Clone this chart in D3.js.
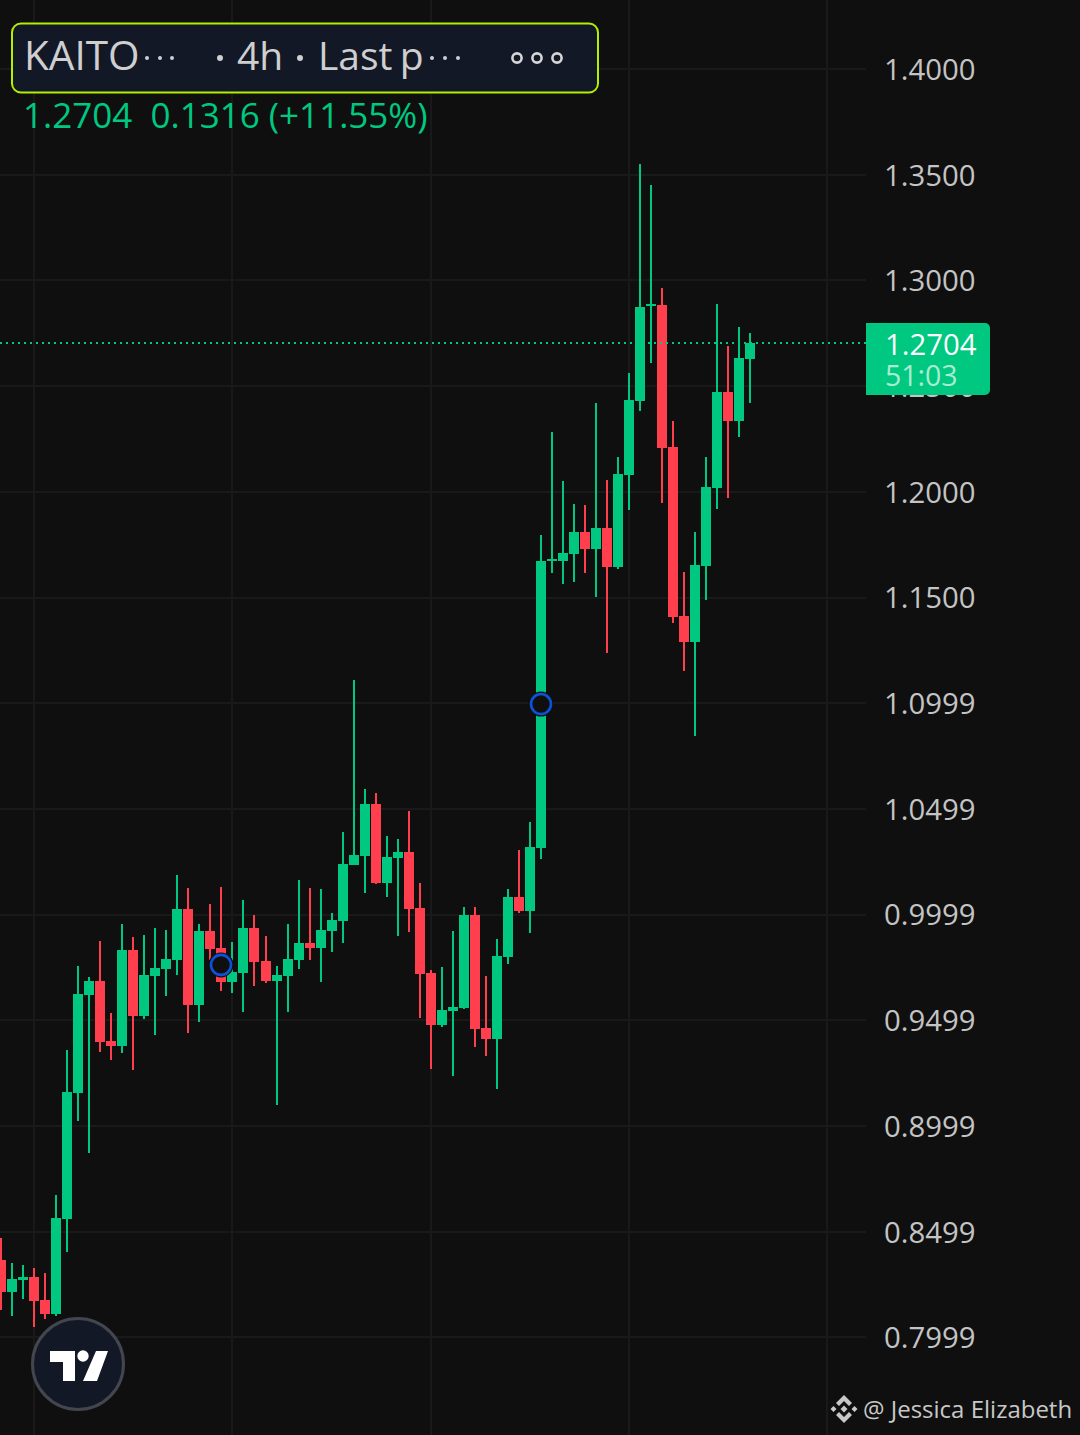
<!DOCTYPE html>
<html>
<head>
<meta charset="utf-8">
<script src="https://cdn.jsdelivr.net/npm/d3@7"></script>
<style>
  html, body { margin: 0; padding: 0; background: #0f0f0f; }
  svg { display: block; font-family: "Open Sans", "Noto Sans", sans-serif; }
</style>
</head>
<body>
<div id="container"></div>
<script>
/* DATA, 4h candles left to right */
const openP = [0.8366,0.8215,0.8271,0.8286,0.8177,0.8111,0.8560,0.9156,0.9620,0.9686,0.9402,0.9378,0.9833,0.9520,0.9710,0.9743,0.9785,1.0027,0.9572,0.9922,0.9842,0.9681,0.9724,0.9937,0.9780,0.9686,0.9710,0.9785,0.9866,0.9842,0.9922,0.9970,1.0235,1.0277,1.0523,1.0150,1.0268,1.0296,1.0031,0.9724,0.9478,0.9544,0.9558,0.9998,0.9464,0.9412,0.9799,1.0083,1.0017,1.0315,1.1673,1.1673,1.1706,1.1810,1.1729,1.1829,1.1644,1.2079,1.2430,1.2879,1.2884,1.2212,1.1413,1.1290,1.1649,1.2018,1.2472,1.2335,1.2628];
const closeP = [0.8215,0.8276,0.8286,0.8172,0.8111,0.8565,0.9161,0.9624,0.9686,0.9397,0.9378,0.9833,0.9520,0.9714,0.9747,0.9790,1.0027,0.9572,0.9922,0.9837,0.9681,0.9729,0.9937,0.9776,0.9686,0.9714,0.9790,0.9866,0.9842,0.9927,0.9974,1.0239,1.0282,1.0523,1.0150,1.0272,1.0296,1.0027,0.9719,0.9478,0.9549,0.9563,0.9998,0.9459,0.9412,0.9804,1.0083,1.0017,1.0320,1.1673,1.1682,1.1711,1.1810,1.1729,1.1829,1.1644,1.2084,1.2434,1.2874,1.2888,1.2207,1.1408,1.1290,1.1654,1.2023,1.2472,1.2335,1.2633,1.2704];
const highP = [0.8470,0.8352,0.8342,0.8328,0.8305,0.8674,0.9360,0.9757,0.9705,0.9875,0.9535,0.9956,0.9894,0.9903,0.9937,0.9927,1.0187,1.0126,0.9956,1.0050,1.0131,0.9870,1.0069,0.9998,0.9899,0.9757,0.9956,1.0164,1.0126,1.0121,1.0008,1.0391,1.1110,1.0594,1.0575,1.0372,1.0358,1.0490,1.0150,0.9738,0.9752,0.9922,1.0036,1.0036,0.9710,0.9885,1.0121,1.0306,1.0438,1.1796,1.2283,1.2051,1.1942,1.1938,1.2420,1.2056,1.2165,1.2562,1.3551,1.3451,1.2964,1.2335,1.1621,1.1810,1.2165,1.2888,1.2690,1.2780,1.2751];
const lowP = [0.8130,0.8101,0.8182,0.8049,0.8087,0.8101,0.8404,0.9024,0.8872,0.9350,0.9312,0.9345,0.9265,0.9506,0.9430,0.9615,0.9714,0.9440,0.9492,0.9785,0.9639,0.9629,0.9539,0.9662,0.9676,0.9099,0.9539,0.9743,0.9785,0.9681,0.9823,0.9866,1.0235,1.0102,1.0145,1.0083,0.9899,0.9918,0.9511,0.9270,0.9468,0.9236,0.9553,0.9374,0.9331,0.9175,0.9766,1.0008,0.9913,1.0263,1.1616,1.1564,1.1573,1.1616,1.1502,1.1237,1.1635,1.1914,1.2382,1.2609,1.1947,1.1379,1.1152,1.0845,1.1488,1.1919,1.1971,1.2259,1.2420];

const priceTicks = [1.4,1.35,1.3,1.25,1.2,1.15,1.1,1.05,1.0,0.95,0.9,0.85,0.8];
const priceLabels = ["1.4000","1.3500","1.3000","1.2500","1.2000","1.1500","1.0999","1.0499","0.9999","0.9499","0.8999","0.8499","0.7999"];
const timeGrid = [3,21,39,57,75]; // vertical grid lines every 18 candles
const markerIdx = [20,49];
const markerPrice = [0.9762,1.0996];
const lastPrice = 1.2704;

/* CONSTANTS AND GLOBALS */
const width = 1080, height = 1435, plotRight = 866;
const bg = "#0f0f0f", gridCol = "#191919", up = "#00c880", down = "#ff3f4d";

const x = d3.scaleLinear().domain([0, 68]).range([1.15, 750.15]);
const y = d3.scaleLinear().domain([1.4, 0.8]).range([69, 1337.4]);

const svg = d3.select("#container").append("svg")
  .attr("width", width).attr("height", height);

svg.append("rect").attr("width", width).attr("height", height).attr("fill", bg);

// grid
const grid = svg.append("g").attr("shape-rendering", "crispEdges");
grid.selectAll(".hgrid").data(priceTicks).join("line")
  .attr("class", "hgrid")
  .attr("x1", 0).attr("x2", plotRight)
  .attr("y1", d => Math.round(y(d))).attr("y2", d => Math.round(y(d)))
  .attr("stroke", gridCol).attr("stroke-width", 2);
grid.selectAll(".vgrid").data(timeGrid).join("line")
  .attr("class", "vgrid")
  .attr("x1", d => Math.round(x(d))).attr("x2", d => Math.round(x(d)))
  .attr("y1", 0).attr("y2", height)
  .attr("stroke", gridCol).attr("stroke-width", 2);

// price axis
const yAxis = d3.axisRight(y).tickValues(priceTicks)
  .tickFormat((d, i) => priceLabels[i]).tickSize(0).tickPadding(0);
const axisG = svg.append("g").attr("transform", "translate(884,1)").call(yAxis);
axisG.select(".domain").remove();
axisG.selectAll("text")
  .attr("fill", "#c4c4c4").attr("font-size", "29.3px")
  .attr("font-family", '"Open Sans", sans-serif');

// candles
const candles = openP.map((o, i) => ({ i, o, c: closeP[i], h: highP[i], l: lowP[i] }));
const candleG = svg.append("g").attr("shape-rendering", "crispEdges");
const colour = d => d.c >= d.o ? up : down;

candleG.selectAll(".wick").data(candles).join("rect")
  .attr("class", "wick")
  .attr("x", d => Math.round(x(d.i)) - 1)
  .attr("width", 2)
  .attr("y", d => Math.round(y(d.h)))
  .attr("height", d => Math.round(y(d.l)) - Math.round(y(d.h)))
  .attr("fill", colour);

candleG.selectAll(".body").data(candles).join("rect")
  .attr("class", "body")
  .attr("x", d => Math.round(x(d.i)) - 5)
  .attr("width", 10)
  .attr("y", d => Math.round(y(Math.max(d.o, d.c))))
  .attr("height", d => Math.max(2, Math.round(y(Math.min(d.o, d.c))) - Math.round(y(Math.max(d.o, d.c)))))
  .attr("fill", colour);

// last price dotted line
svg.append("line")
  .attr("x1", 0).attr("x2", plotRight)
  .attr("y1", Math.round(y(lastPrice))).attr("y2", Math.round(y(lastPrice)))
  .attr("stroke", up).attr("stroke-width", 2)
  .attr("stroke-dasharray", "2 4");

// blue markers, the wider background ring cuts the candle behind them
svg.selectAll(".marker-halo").data(markerIdx).join("circle")
  .attr("class", "marker-halo")
  .attr("cx", d => Math.round(x(d)))
  .attr("cy", (d, i) => y(markerPrice[i]))
  .attr("r", 12.5)
  .attr("fill", bg);
svg.selectAll(".marker").data(markerIdx).join("circle")
  .attr("class", "marker")
  .attr("cx", d => Math.round(x(d)))
  .attr("cy", (d, i) => y(markerPrice[i]))
  .attr("r", 10)
  .attr("fill", "none")
  .attr("stroke", "#0b52d9")
  .attr("stroke-width", 2.6);

// price tag, sits on top of the 1.2500 label
const tagTop = Math.round(y(lastPrice)) - 20;
svg.append("path")
  .attr("d", `M${plotRight},${tagTop}H985a5,5 0 0 1 5,5V${tagTop + 67}a5,5 0 0 1 -5,5H${plotRight}Z`)
  .attr("fill", up);
svg.append("text").attr("x", 885).attr("y", tagTop + 32)
  .attr("font-size", "29.3px").attr("fill", "#ffffff").text(d3.format(".4f")(lastPrice));
svg.append("text").attr("x", 885).attr("y", tagTop + 63)
  .attr("font-size", "28.5px").attr("fill", "#a8ecd2").text("51:03");

// header box
svg.append("rect")
  .attr("x", 12).attr("y", 23.5).attr("width", 586).attr("height", 69).attr("rx", 9)
  .attr("fill", "#131827").attr("stroke", "#b2f000").attr("stroke-width", 2);

const headCol = "#cfcfcf";
svg.append("text").attr("x", 24).attr("y", 70).attr("font-size", "40.5px").attr("fill", headCol).text("KAITO");
svg.append("text").attr("x", 237).attr("y", 70).attr("font-size", "39px").attr("fill", headCol).text("4h");
svg.append("text").attr("x", 318).attr("y", 70).attr("font-size", "39px").attr("word-spacing", "-3px").attr("fill", headCol).text("Last p");

// little dots in the header: ellipsis after the cut titles and separators
const dotX = [147,160,172,220,300,432,445,458];
const dotR = [2,2,2,3,3,2,2,2];
svg.selectAll(".hdot").data(dotX).join("circle")
  .attr("class", "hdot")
  .attr("cx", d => d).attr("cy", 58)
  .attr("r", (d, i) => dotR[i]).attr("fill", headCol);

// three ring menu
const ringX = [517,537,557];
svg.selectAll(".ring").data(ringX).join("circle")
  .attr("class", "ring")
  .attr("cx", d => d).attr("cy", 58).attr("r", 4.6)
  .attr("fill", "none").attr("stroke", "#d6d6d6").attr("stroke-width", 2.6);

// legend row
svg.append("text").attr("x", 23).attr("y", 127.5)
  .attr("font-size", "35px").attr("fill", up)
  .attr("xml:space", "preserve").text("1.2704  0.1316 (+11.55%)");

// tradingview badge
svg.append("circle").attr("cx", 78).attr("cy", 1364).attr("r", 45.5)
  .attr("fill", "#131827").attr("stroke", "#43464f").attr("stroke-width", 3);
svg.append("path").attr("fill", "#fff")
  .attr("d", "M50,1351H75V1381H63V1362H50Z M96,1351H108L97,1381H83Z");
svg.append("circle").attr("cx", 83).attr("cy", 1356).attr("r", 5.7).attr("fill", "#fff");

// watermark
const wm = svg.append("g").attr("fill", "#c8c8c8").attr("transform", "translate(844,1409)");
wm.append("path").attr("d",
  "M0,-14L8,-6L5,-3L0,-8L-5,-3L-8,-6Z M0,14L8,6L5,3L0,8L-5,3L-8,6Z M0,-3.5L3.5,0L0,3.5L-3.5,0Z M-10.5,-3L-7.5,0L-10.5,3L-13.5,0Z M10.5,-3L13.5,0L10.5,3L7.5,0Z");
svg.append("text").attr("x", 863).attr("y", 1418)
  .attr("font-size", "24px").attr("fill", "#c8c8c8").text("@ Jessica Elizabeth");
</script>
</body>
</html>
